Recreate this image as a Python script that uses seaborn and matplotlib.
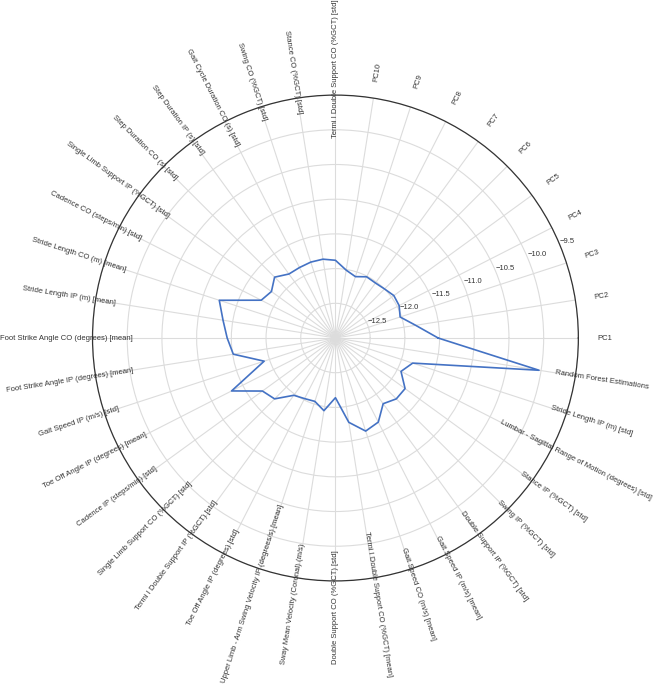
import numpy as np
import pandas as pd
import matplotlib
matplotlib.use("Agg")
import matplotlib.pyplot as plt
import seaborn as sns

# feature names, counter-clockwise starting at 0 degrees
features = [
    "PC1", "PC2", "PC3", "PC4", "PC5", "PC6", "PC7", "PC8", "PC9", "PC10",
    "Termi I Double Support CO (%GCT) [std]",
    "Stance CO (%GCT) [std]",
    "Swing CO (%GCT) [std]",
    "Gait Cycle Duration CO (s) [std]",
    "Step Duration IP (s) [std]",
    "Step Duration CO (s) [std]",
    "Single Limb Support IP (%GCT) [std]",
    "Cadence CO (steps/min) [std]",
    "Stride Length CO (m) [mean]",
    "Stride Length IP (m) [mean]",
    "Foot Strike Angle CO (degrees) [mean]",
    "Foot Strike Angle IP (degrees) [mean]",
    "Gait Speed IP (m/s) [std]",
    "Toe Off Angle IP (degrees) [mean]",
    "Cadence IP (steps/min) [std]",
    "Single Limb Support CO (%GCT) [std]",
    "Termi I Double Support IP (%GCT) [std]",
    "Toe Off Angle IP (degrees) [std]",
    "Upper Limb - Arm Swing Velocity IP (degrees/s) [mean]",
    "Sway Mean Velocity (Coronal) (m/s)",
    "Double Support CO (%GCT) [std]",
    "Termi I Double Support CO (%GCT) [mean]",
    "Gait Speed CO (m/s) [mean]",
    "Gait Speed IP (m/s) [mean]",
    "Double Support IP (%GCT) [std]",
    "Swing IP (%GCT) [std]",
    "Stance IP (%GCT) [std]",
    "Lumbar - Sagittal Range of Motion (degrees) [std]",
    "Stride Length IP (m) [std]",
    "Random Forest Estimations",
]

scores = [
    -11.52, -11.83, -12.02, -11.97, -11.96, -12.00, -12.02, -12.01, -12.07, -12.01,
    -11.88, -11.85, -11.85, -11.86, -11.86, -11.76, -11.86, -11.80, -11.24, -11.36,
    -11.44, -11.51, -11.92, -11.32, -11.70, -11.76, -11.98, -12.02, -12.04, -11.94,
    -12.14, -11.77, -11.59, -11.64, -11.83, -11.76, -11.76, -11.94, -11.83, -10.03,
]

r_ticks = [-12.5, -12.0, -11.5, -11.0, -10.5, -10.0, -9.5]

plt.rcParams['font.family'] = ['Liberation Sans', 'DejaVu Sans']

n = len(features)
angles = np.linspace(0, 2 * np.pi, n, endpoint=False)

# close the loop
df = pd.DataFrame({
    "theta": np.append(angles, 2 * np.pi),
    "value": scores + scores[:1],
})

fig = plt.figure(figsize=(6.53, 6.85), dpi=100)
ax = fig.add_axes([0.1417, 0.1518, 0.744, 0.7095], projection='polar')

sns.lineplot(data=df, x="theta", y="value", ax=ax, sort=False,
             color="#4472C4", linewidth=1.2)

ax.set_ylim(-13, -9.5)
ax.set_yticks(r_ticks)
ax.tick_params(axis='y', labelsize=5.5, labelcolor='#333333')
ax.set_rlabel_position(22.5)

ax.set_xticks(angles)
ax.set_xticklabels([])
ax.set_xlabel("")
ax.set_ylabel("")

ax.grid(color='#dcdcdc', linewidth=0.8)
ax.spines['polar'].set_color('#333333')
ax.spines['polar'].set_linewidth(0.9)

# rotated feature labels around the circle
r_lab = -13 + 3.5 * 269.5 / 243
for ang, name in zip(angles, features):
    deg = np.degrees(ang)
    rot = deg - 180 if 90 < deg <= 270 else deg
    ax.text(ang, r_lab, name, rotation=rot, rotation_mode='anchor',
            ha='center', va='center', fontsize=5.5, color='#333333')

fig.savefig("out.png", dpi=100)
